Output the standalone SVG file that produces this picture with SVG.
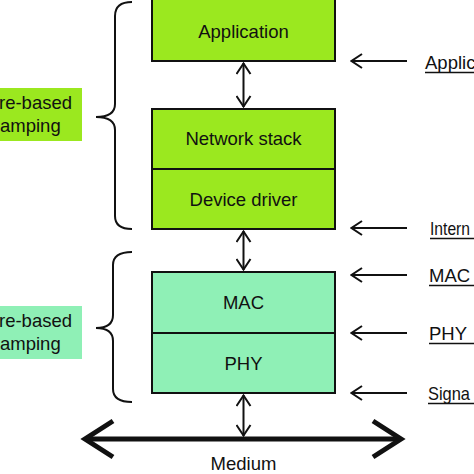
<svg xmlns="http://www.w3.org/2000/svg" width="474" height="474" viewBox="0 0 474 474">
<style>
text{font-family:"Liberation Sans",Arial,sans-serif;font-size:18.5px;fill:#111}
.c{text-anchor:middle}
.sw{fill:#9be81f;stroke:#111;stroke-width:2}
.hw{fill:#8ff0b6;stroke:#111;stroke-width:2}
.ln{stroke:#111;stroke-width:2;fill:none}
.br{stroke:#111;stroke-width:2;fill:none}
.ul{stroke:#111;stroke-width:1.5}
</style>
<defs>
<marker id="ah" viewBox="0 0 14 16" refX="13" refY="8" markerWidth="14" markerHeight="16" markerUnits="userSpaceOnUse" orient="auto-start-reverse">
<path d="M2,1 L12.5,8 L2,15" fill="none" stroke="#111" stroke-width="2"/>
</marker>
</defs>
<g id="sw-label">
<rect x="0" y="88" width="82" height="53" fill="#9be81f"/>
<text x="-1" y="109">re-based</text>
<text x="0" y="132">amping</text>
</g>
<g id="hw-label">
<rect x="0" y="306" width="82" height="53" fill="#8ff0b6"/>
<text x="-1" y="327">re-based</text>
<text x="0" y="350">amping</text>
</g>
<g id="app">
<rect class="sw" x="152" y="-2" width="183" height="63"/>
<text class="c" x="243.5" y="38">Application</text>
</g>
<g id="stack">
<rect class="sw" x="152" y="109" width="183" height="60"/>
<text class="c" x="243.5" y="145">Network stack</text>
</g>
<g id="driver">
<rect class="sw" x="152" y="169" width="183" height="60"/>
<text class="c" x="243.5" y="206">Device driver</text>
</g>
<g id="mac">
<rect class="hw" x="152" y="272" width="183" height="61"/>
<text class="c" x="243.5" y="309">MAC</text>
</g>
<g id="phy">
<rect class="hw" x="152" y="333" width="183" height="60"/>
<text class="c" x="243.5" y="370">PHY</text>
</g>
<g id="medium">
<line x1="86" y1="439" x2="400" y2="439" stroke="#111" stroke-width="5"/>
<path d="M113,421 L85,439 L113,457" fill="none" stroke="#111" stroke-width="5"/>
<path d="M373,421 L401,439 L373,457" fill="none" stroke="#111" stroke-width="5"/>
<text class="c" x="243.5" y="470">Medium</text>
</g>
<g id="braces">
<path class="br" d="M132,2 Q115,2 115,16 L115,104 Q115,117 96,117 Q115,117 115,130 L115,216 Q115,229 132,229"/>
<path class="br" d="M132,252 Q113,252 113,265 L113,315 Q113,328 96,328 Q113,328 113,341 L113,389 Q113,402 132,402"/>
</g>
<g id="connectors">
<line class="ln" x1="243.5" y1="63" x2="243.5" y2="107" marker-start="url(#ah)" marker-end="url(#ah)"/>
<line class="ln" x1="243.5" y1="231" x2="243.5" y2="270" marker-start="url(#ah)" marker-end="url(#ah)"/>
<line class="ln" x1="243.5" y1="395" x2="243.5" y2="436" marker-start="url(#ah)" marker-end="url(#ah)"/>
<line class="ln" x1="407" y1="61" x2="351" y2="61" marker-end="url(#ah)"/>
<line class="ln" x1="407" y1="228" x2="351" y2="228" marker-end="url(#ah)"/>
<line class="ln" x1="407" y1="275" x2="351" y2="275" marker-end="url(#ah)"/>
<line class="ln" x1="407" y1="333" x2="351" y2="333" marker-end="url(#ah)"/>
<line class="ln" x1="407" y1="393" x2="351" y2="393" marker-end="url(#ah)"/>
</g>
<g id="right-labels">
<text x="425" y="69">Applic</text>
<line class="ul" x1="425" y1="72.5" x2="474" y2="72.5"/>
<text x="430" y="235" textLength="40" lengthAdjust="spacingAndGlyphs">Intern</text>
<line class="ul" x1="430" y1="238.5" x2="474" y2="238.5"/>
<text x="429" y="282">MAC</text>
<line class="ul" x1="429" y1="285.5" x2="474" y2="285.5"/>
<text x="429" y="340">PHY</text>
<line class="ul" x1="429" y1="343.5" x2="474" y2="343.5"/>
<text x="428" y="400" textLength="42" lengthAdjust="spacingAndGlyphs">Signa</text>
<line class="ul" x1="428" y1="403.5" x2="474" y2="403.5"/>
</g>
</svg>
